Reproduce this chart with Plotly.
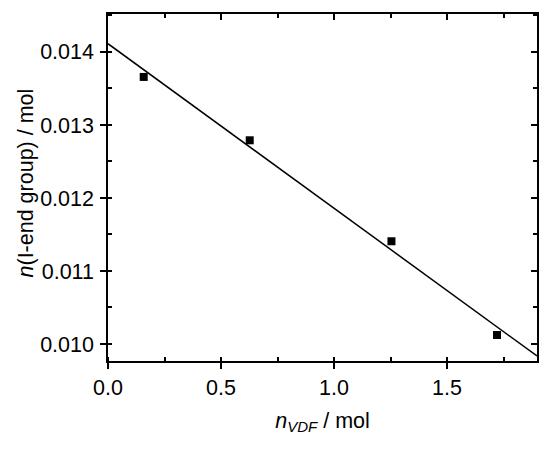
import numpy as np
import plotly.graph_objects as go

n_vdf = [0.158, 0.627, 1.254, 1.721]
n_iend = [0.013658, 0.012790, 0.011407, 0.010123]

x_range = [0, 1.898]
y_range = [0.009767, 0.01452]

# dopasowanie liniowe
slope, intercept = np.polyfit(n_vdf, n_iend, 1)
fit_x = np.array(x_range)
fit_y = slope * fit_x + intercept

FONT = "Arial, Liberation Sans, sans-serif"
title_font = dict(family=FONT, size=21.5, color='black')

fig = go.Figure()

fig.add_trace(go.Scatter(x=fit_x, y=fit_y, mode='lines',
                         line=dict(color='black', width=1.5), showlegend=False))
fig.add_trace(go.Scatter(x=n_vdf, y=n_iend, mode='markers',
                         marker=dict(symbol='square', color='black', size=8), showlegend=False))
# pusty slad zeby pokazac gorna i prawa os
fig.add_trace(go.Scatter(x=[None], y=[None], xaxis='x2', yaxis='y2', showlegend=False))

axis_common = dict(showline=True, linecolor='black', linewidth=1.5, showgrid=False,
                   zeroline=False, tickcolor='black', tickwidth=1.5, automargin=False)

# strona ma 8px marginesu body, stad mniejsze marginesy i rozmiar
fig.update_layout(
    width=542, height=442,
    margin=dict(l=100, r=13, t=6, b=89),
    plot_bgcolor='white', paper_bgcolor='white',
    font=dict(family=FONT, size=21.5, color='black'),
    xaxis=dict(range=x_range, dtick=0.5, tickformat='.1f', ticks='outside', ticklen=6,
               minor=dict(ticks='inside', ticklen=4, dtick=0.25, tickcolor='black', tickwidth=1.5),
               title=dict(text='<i>n</i><sub><i>VDF</i></sub> / mol', standoff=14, font=title_font),
               **axis_common),
    yaxis=dict(range=y_range, dtick=0.001, tickformat='.3f', ticks='outside', ticklen=6,
               ticklabelstandoff=2,
               minor=dict(ticks='inside', ticklen=4, dtick=0.0005, tickcolor='black', tickwidth=1.5),
               **axis_common),
    xaxis2=dict(overlaying='x', side='top', matches='x', range=x_range, dtick=0.5,
                ticks='inside', ticklen=6, showticklabels=False,
                minor=dict(ticks='inside', ticklen=4, dtick=0.25, tickcolor='black', tickwidth=1.5),
                **axis_common),
    yaxis2=dict(overlaying='y', side='right', matches='y', range=y_range, dtick=0.001,
                ticks='inside', ticklen=6, showticklabels=False,
                minor=dict(ticks='inside', ticklen=4, dtick=0.0005, tickcolor='black', tickwidth=1.5),
                **axis_common),
)

# tytul osi y jako adnotacja - w oryginale siedzi blizej etykiet niz pozwala standoff
fig.add_annotation(text='<i>n</i>(I-end group) / mol', textangle=-90, font=title_font,
                   xref='paper', yref='paper', x=0, y=0.5, xanchor='center', yanchor='middle',
                   xshift=-83, yshift=4, showarrow=False)

fig.write_html("out.html")
